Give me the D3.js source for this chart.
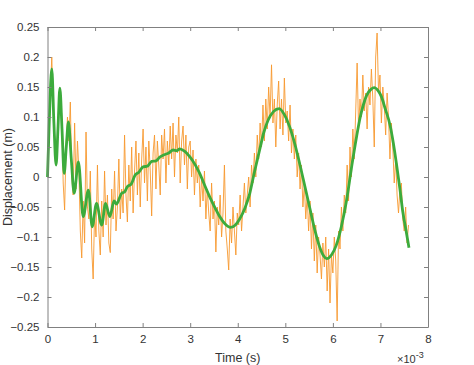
<!DOCTYPE html>
<html>
<head>
<meta charset="utf-8">
<script src="https://cdn.jsdelivr.net/npm/d3@7"></script>
<style>
  body { margin: 0; background: #fff; }
  svg { font-family: "Liberation Sans", Arial, sans-serif; }
</style>
</head>
<body>
<script>
// time in units of 1e-3 s
var xTicks = [0, 1, 2, 3, 4, 5, 6, 7, 8];
var yTicks = [-0.25, -0.2, -0.15, -0.1, -0.05, 0, 0.05, 0.1, 0.15, 0.2, 0.25];

// raw (noisy) signal, sampled every 0.03e-3 s starting at 0
var rawStep = 0.03;
var rawValues = [
  0.00, 0.06, 0.14, 0.20, 0.12, 0.07, 0.03, 0.06, 0.13, 0.14,
  0.10, -0.01, -0.055, 0.05, 0.10, 0.06, 0.125, 0.00, -0.03, 0.09,
  -0.02, 0.06, 0.01, -0.09, -0.135, -0.04, -0.11, 0.075, -0.05, -0.07,
  0.01, -0.12, -0.17, -0.06, -0.10, 0.02, -0.09, -0.13, -0.04, -0.10,
  0.01, -0.08, -0.03, -0.11, -0.126, -0.02, -0.07, 0.01, -0.09, -0.05,
  0.03, -0.07, -0.02, -0.06, 0.07, -0.03, -0.075, 0.02, -0.04, 0.05,
  -0.06, 0.01, 0.06, -0.03, 0.04, -0.05, 0.03, 0.08, -0.01, 0.05,
  -0.04, 0.06, 0.01, -0.065, 0.04, 0.07, -0.02, 0.06, 0.02, -0.03,
  0.07, 0.03, 0.08, -0.01, 0.06, 0.02, 0.085, 0.03, 0.09, 0.00,
  0.07, 0.04, 0.10, -0.01, 0.06, 0.085, 0.02, 0.07, -0.02, 0.05,
  0.06, 0.00, 0.045, -0.03, 0.03, -0.01, 0.02, -0.05, 0.00, -0.04,
  0.01, -0.07, -0.02, -0.06, -0.09, -0.01, -0.07, -0.04, -0.125, -0.05,
  -0.08, -0.03, -0.10, -0.06, 0.02, -0.09, -0.12, -0.155, -0.07, -0.11,
  -0.05, -0.09, -0.13, -0.06, -0.08, -0.03, -0.09, -0.05, -0.01, -0.06,
  -0.03, 0.00, -0.05, 0.02, -0.01, 0.04, 0.00, 0.07, 0.03, 0.09,
  0.05, 0.12, 0.06, 0.13, 0.08, 0.15, 0.10, 0.187, 0.09, 0.13,
  0.05, 0.12, 0.16, 0.08, 0.13, 0.07, 0.165, 0.09, 0.11, 0.06,
  0.12, 0.04, 0.08, 0.03, 0.07, 0.00, 0.04, -0.02, 0.02, -0.05,
  -0.01, -0.07, -0.03, -0.09, -0.04, -0.12, -0.06, -0.14, -0.08, -0.16,
  -0.10, -0.13, -0.17, -0.11, -0.15, -0.10, -0.19, -0.12, -0.21, -0.13,
  -0.16, -0.10, -0.14, -0.24, -0.09, -0.12, -0.05, -0.09, -0.03, -0.06,
  0.02, -0.04, 0.05, 0.00, 0.08, 0.03, 0.11, 0.19, 0.08, 0.13,
  0.10, 0.17, 0.11, 0.14, 0.08, 0.15, 0.12, 0.18, 0.13, 0.05,
  0.20, 0.24, 0.14, 0.17, 0.09, 0.15, 0.12, 0.07, 0.14, 0.10,
  0.03, 0.09, 0.05, -0.01, 0.03, -0.03, -0.06, -0.02, -0.01, -0.07,
  -0.09, -0.05, -0.11, -0.08
];

// smoothed signal: knots
var smoothTime = [
  0, 0.04, 0.09, 0.135, 0.18, 0.22, 0.26, 0.305, 0.35, 0.395,
  0.44, 0.50, 0.56, 0.65, 0.75, 0.86, 0.94, 1.03, 1.14, 1.22,
  1.31, 1.40, 1.45, 1.56, 1.62, 1.68, 1.76, 1.84, 1.92, 2.01,
  2.10, 2.19, 2.28, 2.36, 2.45, 2.55, 2.64, 2.72, 2.78, 2.88,
  2.99, 3.10, 3.20, 3.30, 3.41, 3.52, 3.62, 3.73, 3.85, 3.95,
  4.04, 4.15, 4.25, 4.35, 4.46, 4.55, 4.64, 4.75, 4.87, 4.98,
  5.09, 5.20, 5.30, 5.41, 5.51, 5.62, 5.72, 5.80, 5.87, 5.97,
  6.07, 6.18, 6.29, 6.40, 6.50, 6.57, 6.64, 6.71, 6.80, 6.87,
  6.95, 7.02, 7.10, 7.20, 7.27, 7.34, 7.41, 7.47, 7.54, 7.60
];
var smoothValues = [
  0.0, 0.10, 0.18, 0.09, 0.02, 0.08, 0.148, 0.08, 0.006, 0.05,
  0.092, 0.03, -0.027, 0.025, -0.066, -0.022, -0.083, -0.044, -0.08, -0.044,
  -0.066, -0.04, -0.045, -0.027, -0.025, -0.016, -0.012, 0.003, 0.008, 0.017,
  0.018, 0.026, 0.027, 0.033, 0.037, 0.040, 0.045, 0.044, 0.047, 0.043,
  0.034, 0.021, 0.006, -0.013, -0.033, -0.051, -0.066, -0.078, -0.084, -0.080,
  -0.070, -0.052, -0.028, 0.008, 0.045, 0.075, 0.095, 0.109, 0.114, 0.104,
  0.084, 0.055, 0.023, -0.015, -0.050, -0.088, -0.116, -0.131, -0.136, -0.130,
  -0.114, -0.082, -0.038, 0.020, 0.068, 0.098, 0.120, 0.136, 0.146, 0.149,
  0.144, 0.134, 0.114, 0.087, 0.057, 0.020, -0.020, -0.058, -0.090, -0.118
];

var rawData = rawValues.map(function(v, i) { return {t: i * rawStep, v: v}; });
var smoothData = smoothValues.map(function(v, i) { return {t: smoothTime[i], v: v}; });

var margin = {top: 27, right: 46, bottom: 38, left: 47.5},
    width = 474 - margin.left - margin.right,
    height = 365 - margin.top - margin.bottom;

var svg = d3.select("body").append("svg")
    .attr("width", 474)
    .attr("height", 365);

var g = svg.append("g")
    .attr("transform", "translate(" + margin.left + "," + margin.top + ")");

var x = d3.scaleLinear().domain([0, 8]).range([0, width]);
var y = d3.scaleLinear().domain([-0.25, 0.25]).range([height, 0]);

var axisColor = "#808080";
var textColor = "#333";

// data lines
var line = d3.line()
    .x(function(d) { return x(d.t); })
    .y(function(d) { return y(d.v); });

g.append("path")
    .datum(rawData)
    .attr("fill", "none")
    .attr("stroke", "#f7982f")
    .attr("stroke-width", 0.9)
    .attr("d", line);

g.append("path")
    .datum(smoothData)
    .attr("fill", "none")
    .attr("stroke", "#3cab3c")
    .attr("stroke-width", 2.8)
    .attr("stroke-linejoin", "round")
    .attr("d", line.curve(d3.curveMonotoneX));

// axes (matlab style box, ticks inside)
function styleAxis(sel, showText) {
  sel.select(".domain").attr("stroke", axisColor);
  sel.selectAll(".tick line").attr("stroke", axisColor);
  sel.selectAll(".tick text")
      .attr("fill", textColor)
      .style("font-size", "11.5px")
      .style("display", showText ? null : "none");
}

var fmtY = function(d) { return d3.format("")(+d.toFixed(2)); };

g.append("g")
    .attr("transform", "translate(0," + height + ")")
    .call(d3.axisBottom(x).tickValues(xTicks).tickSizeInner(-4).tickSizeOuter(0).tickPadding(8))
    .call(styleAxis, true);

g.append("g")
    .call(d3.axisTop(x).tickValues(xTicks).tickSizeInner(-4).tickSizeOuter(0))
    .call(styleAxis, false);

g.append("g")
    .call(d3.axisLeft(y).tickValues(yTicks).tickFormat(fmtY).tickSizeInner(-4).tickSizeOuter(0).tickPadding(8))
    .call(styleAxis, true);

g.append("g")
    .attr("transform", "translate(" + width + ",0)")
    .call(d3.axisRight(y).tickValues(yTicks).tickSizeInner(-4).tickSizeOuter(0))
    .call(styleAxis, false);

// labels
svg.append("text")
    .attr("x", margin.left + width / 2)
    .attr("y", 362)
    .attr("text-anchor", "middle")
    .attr("fill", textColor)
    .style("font-size", "12.5px")
    .text("Time (s)");

svg.append("text")
    .attr("transform", "translate(12," + (margin.top + height / 2) + ") rotate(-90)")
    .attr("text-anchor", "middle")
    .attr("fill", textColor)
    .style("font-size", "12.5px")
    .text("Displacement (m)");

var expo = svg.append("text")
    .attr("x", 397)
    .attr("y", 363)
    .attr("fill", textColor)
    .style("font-size", "11px");
expo.append("tspan").text("\u00d7");
expo.append("tspan").text("10");
expo.append("tspan").attr("dy", -5).style("font-size", "9px").text("-3");
</script>
</body>
</html>
